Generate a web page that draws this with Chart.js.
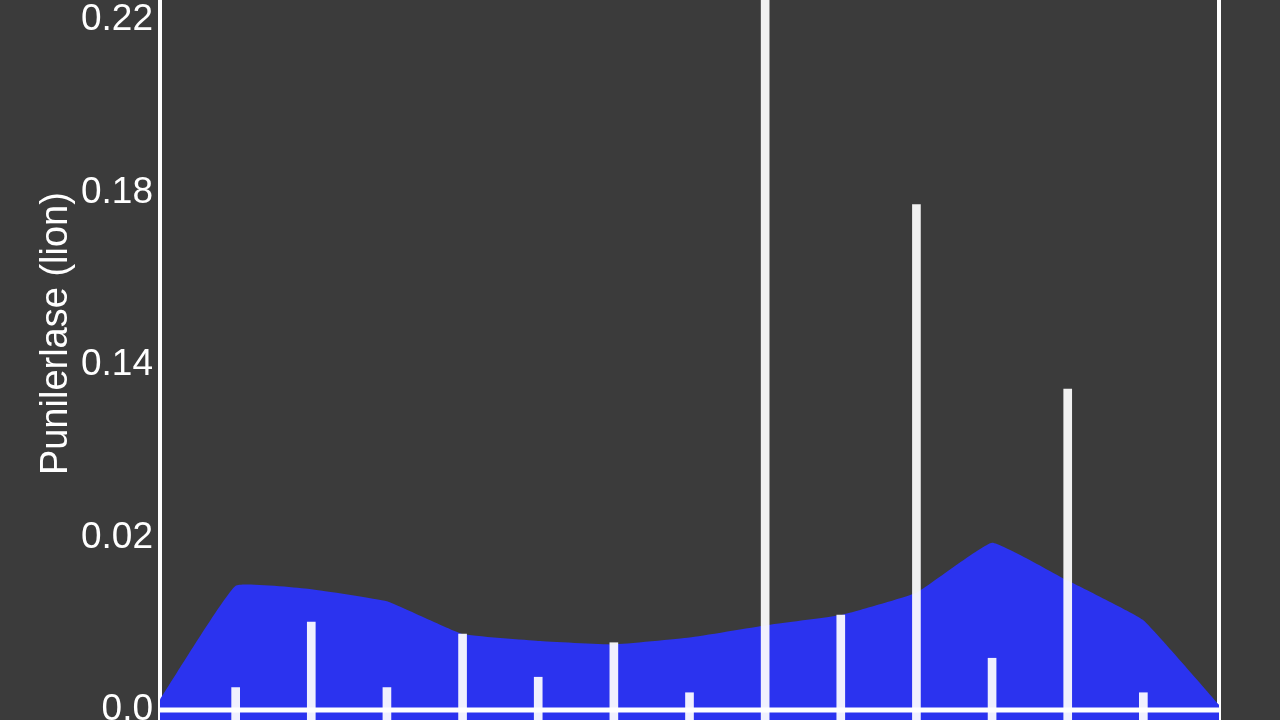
<!DOCTYPE html>
<html>
<head>
<meta charset="utf-8">
<script src="https://cdn.jsdelivr.net/npm/chart.js@4/dist/chart.umd.min.js"></script>
<style>
  html, body { margin: 0; padding: 0; background: #3b3b3b; }
  #wrap { width: 1280px; height: 720px; }
</style>
</head>
<body>
<div id="wrap"><canvas id="chart" width="1280" height="720"></canvas></div>
<script>
// Chart values (in axis tick steps: one step between labelled gridlines)
const positions = ['0', '1', '2', '3', '4', '5', '6', '7', '8', '9', '10', '11', '12', '13', '14'];
const areaValues = [0.06, 0.72, 0.70, 0.63, 0.44, 0.40, 0.38, 0.42, 0.49, 0.55, 0.68, 0.97, 0.75, 0.52, 0.03];
const barValues = [null, 0.13, 0.51, 0.13, 0.44, 0.19, 0.39, 0.10, 4.3, 0.55, 2.93, 0.30, 1.86, 0.10, null];
const zeroLine = [0, 0, 0, 0, 0, 0, 0, 0, 0, 0, 0, 0, 0, 0, 0];
const tickLabels = ['0.0', '0.02', '0.14', '0.18', '0.22'];

const yMin = -0.058;
const yMax = 4.116;

new Chart(document.getElementById('chart'), {
  type: 'bar',
  data: {
    labels: positions,
    datasets: [
      {
        type: 'line',
        data: zeroLine,
        borderColor: '#ffffff',
        borderWidth: 5,
        pointRadius: 0,
        fill: false,
        order: 0
      },
      {
        type: 'bar',
        data: barValues,
        backgroundColor: 'rgba(255, 255, 255, 0.93)',
        borderWidth: 0,
        barThickness: 8,
        base: yMin,
        order: 1
      },
      {
        type: 'line',
        data: areaValues,
        borderWidth: 0,
        borderColor: 'rgba(0,0,0,0)',
        backgroundColor: '#2b33ef',
        pointRadius: 0,
        tension: 0.1,
        fill: 'start',
        order: 2
      }
    ]
  },
  options: {
    responsive: false,
    animation: false,
    layout: { padding: 0 },
    plugins: {
      legend: { display: false },
      tooltip: { enabled: false }
    },
    scales: {
      x: {
        type: 'category',
        offset: false,
        display: false,
        grid: { display: false }
      },
      y: {
        position: 'left',
        min: yMin,
        max: yMax,
        afterBuildTicks: function(scale) {
          scale.ticks = tickLabels.map((t, i) => ({ value: i }));
        },
        afterFit: function(scale) {
          scale.width = 160;
          scale.paddingTop = 0;
          scale.paddingBottom = 0;
        },
        grid: { display: false, drawTicks: false },
        border: { display: true, color: '#ffffff', width: 4 },
        ticks: {
          color: '#ffffff',
          padding: 7,
          font: { family: 'Liberation Sans, Arial, sans-serif', size: 37 },
          callback: function(value, index) {
            return tickLabels[index];
          }
        },
        title: {
          display: true,
          // leading spaces nudge the centred title upward
          text: '     Punilerlase (lion)',
          color: '#ffffff',
          padding: { top: 34, bottom: 0 },
          font: { family: 'Liberation Sans, Arial, sans-serif', size: 38 }
        }
      },
      y2: {
        position: 'right',
        min: yMin,
        max: yMax,
        afterFit: function(scale) {
          scale.width = 61;
          scale.paddingTop = 0;
          scale.paddingBottom = 0;
        },
        grid: { display: false, drawTicks: false },
        border: { display: true, color: '#ffffff', width: 4 },
        ticks: { display: false }
      }
    }
  }
});
</script>
</body>
</html>
